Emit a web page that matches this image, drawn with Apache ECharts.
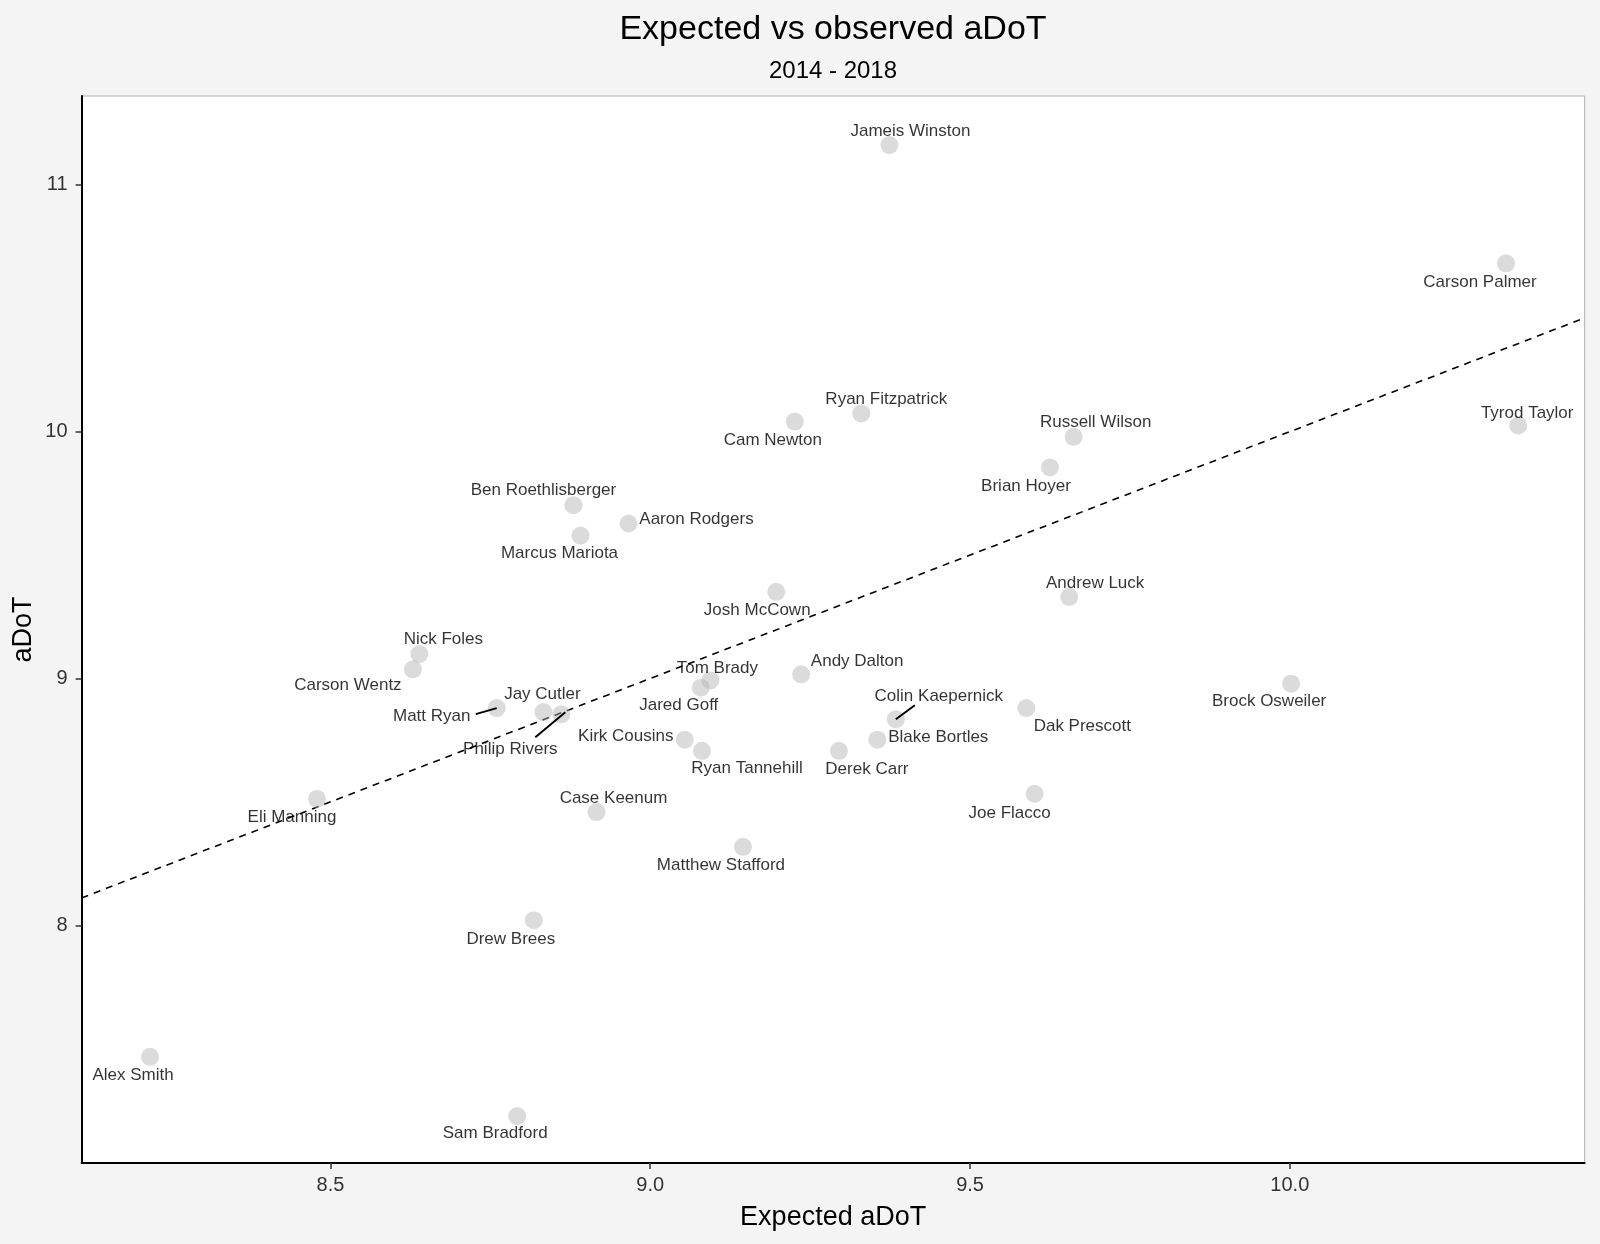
<!DOCTYPE html>
<html>
<head>
<meta charset="utf-8">
<script src="https://cdn.jsdelivr.net/npm/echarts@6/dist/echarts.min.js"></script>
<style>
html,body{margin:0;padding:0;background:#f4f4f4;}
#chart{width:1600px;height:1244px;}
</style>
</head>
<body>
<div id="chart"></div>
<script>
// ---- data ----
const players = ["Jameis Winston","Carson Palmer","Tyrod Taylor","Ryan Fitzpatrick","Cam Newton","Russell Wilson","Brian Hoyer","Ben Roethlisberger","Aaron Rodgers","Marcus Mariota","Josh McCown","Andrew Luck","Nick Foles","Carson Wentz","Tom Brady","Jared Goff","Andy Dalton","Brock Osweiler","Matt Ryan","Jay Cutler","Philip Rivers","Dak Prescott","Colin Kaepernick","Blake Bortles","Kirk Cousins","Ryan Tannehill","Derek Carr","Joe Flacco","Eli Manning","Case Keenum","Matthew Stafford","Drew Brees","Alex Smith","Sam Bradford"];
const expectedADoT = [9.374,10.338,10.357,9.330,9.226,9.662,9.625,8.880,8.966,8.891,9.197,9.655,8.639,8.629,9.094,9.079,9.236,10.002,8.760,8.833,8.861,9.588,9.384,9.355,9.054,9.081,9.295,9.601,8.479,8.916,9.145,8.818,8.218,8.792];
const observedADoT = [11.161,10.682,10.025,10.074,10.041,9.979,9.855,9.702,9.628,9.579,9.351,9.331,9.099,9.037,8.992,8.963,9.017,8.979,8.880,8.864,8.855,8.880,8.835,8.752,8.752,8.707,8.707,8.533,8.512,8.459,8.318,8.021,7.467,7.227];
const xTicks = [8.5, 9.0, 9.5, 10.0];
const yTicks = [8, 9, 10, 11];
const xRange = [8.111, 10.461];
const yRange = [7.037, 11.36];

// ---- label layout (pixel offsets of label centre from point) ----
const labelOffsets = {
  "Jameis Winston":[21,-15],"Carson Palmer":[-26,17],"Tyrod Taylor":[9,-14],"Ryan Fitzpatrick":[25,-16],
  "Cam Newton":[-22,17],"Russell Wilson":[22,-16],"Brian Hoyer":[-24,17],"Ben Roethlisberger":[-30,-16],
  "Aaron Rodgers":[68,-6],"Marcus Mariota":[-21,16],"Josh McCown":[-19,17],"Andrew Luck":[26,-15],
  "Nick Foles":[24,-16],"Carson Wentz":[-65,14],"Tom Brady":[7,-14],"Jared Goff":[-22,16],
  "Andy Dalton":[56,-14],"Brock Osweiler":[-22,16],"Matt Ryan":[-65,7],"Jay Cutler":[-1,-19],
  "Philip Rivers":[-51,34],"Dak Prescott":[56,17],"Colin Kaepernick":[43,-24],"Blake Bortles":[61,-4],
  "Kirk Cousins":[-59,-5],"Ryan Tannehill":[45,16],"Derek Carr":[28,17],"Joe Flacco":[-25,18],
  "Eli Manning":[-25,17],"Case Keenum":[17,-15],"Matthew Stafford":[-22,17],"Drew Brees":[-23,18],
  "Alex Smith":[-17,17],"Sam Bradford":[-22,16]
};
// leader segments: [startDx, startDy, endDx, endDy] in pixels relative to the point
const leaderSegments = {
  "Matt Ryan": [-21, 6, 0, 0],
  "Philip Rivers": [-26, 23, 4, -2],
  "Colin Kaepernick": [19, -14, 0, 0]
};

const FONT = "'Liberation Sans', Arial, sans-serif";
const chart = echarts.init(document.getElementById('chart'));

const scatterData = players.map((name, i) => ({ name: name, value: [expectedADoT[i], observedADoT[i]] }));
const leaderNames = Object.keys(leaderSegments);
const leaderData = leaderNames.map(name => {
  const i = players.indexOf(name);
  return { name: name, value: [expectedADoT[i], observedADoT[i]] };
});

chart.setOption({
  backgroundColor: '#f4f4f4',
  animation: false,
  grid: { left: 81.6, right: 15.3, top: 96, bottom: 81, show: true, backgroundColor: '#fff', borderColor: '#b0b0b0', borderWidth: 1, containLabel: false, outerBoundsMode: 'none' },
  graphic: [
    { type: 'text', x: 833, y: 30, style: { text: 'Expected vs observed aDoT', font: '34px ' + FONT, fill: '#000', align: 'center', verticalAlign: 'middle' } },
    { type: 'text', x: 833, y: 71, style: { text: '2014 - 2018', font: '24px ' + FONT, fill: '#000', align: 'center', verticalAlign: 'middle' } }
  ],
  xAxis: {
    type: 'value', min: xRange[0], max: xRange[1],
    name: 'Expected aDoT', nameLocation: 'middle', nameGap: 41, nameMoveOverlap: false,
    nameTextStyle: { fontSize: 27, color: '#000', fontFamily: FONT },
    axisLine: { show: true, lineStyle: { color: '#000', width: 2 } },
    axisTick: { show: true, length: 6, customValues: xTicks, lineStyle: { color: '#333', width: 1.5 } },
    axisLabel: { customValues: xTicks, formatter: v => v.toFixed(1), fontSize: 20, color: '#333', margin: 12, fontFamily: FONT },
    splitLine: { show: false }
  },
  yAxis: {
    type: 'value', min: yRange[0], max: yRange[1],
    name: 'aDoT', nameLocation: 'middle', nameGap: 45, nameRotate: 90, nameMoveOverlap: false,
    nameTextStyle: { fontSize: 27, color: '#000', fontFamily: FONT },
    axisLine: { show: true, lineStyle: { color: '#000', width: 2 } },
    axisTick: { show: true, length: 6, customValues: yTicks, lineStyle: { color: '#333', width: 1.5 } },
    axisLabel: { customValues: yTicks, formatter: v => String(v), fontSize: 20, color: '#333', margin: 14, fontFamily: FONT },
    splitLine: { show: false }
  },
  series: [
    {
      type: 'line', z: 1, silent: true, symbol: 'none',
      data: [[xRange[0], xRange[0]], [xRange[1], xRange[1]]],
      lineStyle: { color: '#000', width: 1.6, type: [7, 6] }
    },
    {
      type: 'custom', z: 3, silent: true,
      data: leaderData,
      renderItem: function (params, api) {
        const p = api.coord([api.value(0), api.value(1)]);
        const s = leaderSegments[leaderNames[params.dataIndex]];
        return {
          type: 'line',
          shape: { x1: p[0] + s[0], y1: p[1] + s[1], x2: p[0] + s[2], y2: p[1] + s[3] },
          style: { stroke: '#000', lineWidth: 2 }
        };
      }
    },
    {
      type: 'scatter', z: 2, symbolSize: 18,
      itemStyle: { color: 'rgba(180,180,180,0.6)' },
      data: scatterData,
      label: { show: true, position: 'inside', formatter: p => p.name, fontSize: 17, color: '#000', fontFamily: FONT },
      labelLayout: function (params) {
        const name = players[params.dataIndex];
        const o = labelOffsets[name] || [0, 0];
        return { dx: o[0], dy: o[1] + 1.5, hideOverlap: false };
      }
    }
  ]
});
</script>
</body>
</html>
